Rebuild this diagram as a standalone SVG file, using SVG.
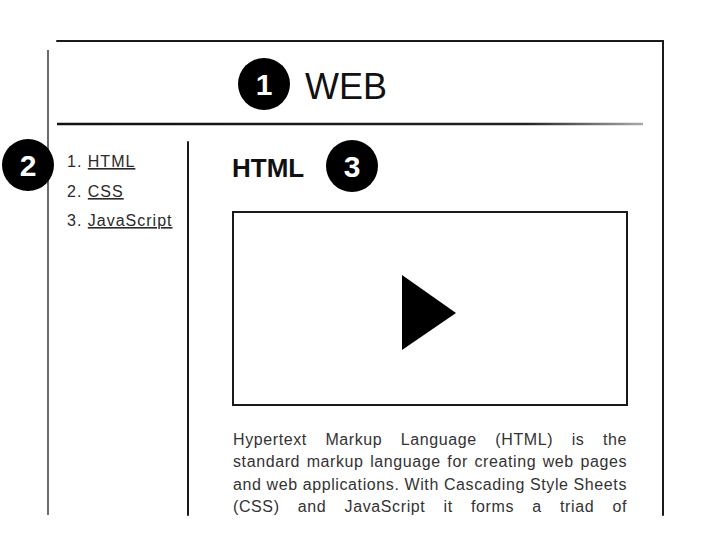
<svg xmlns="http://www.w3.org/2000/svg" width="711" height="541" viewBox="0 0 711 541">
<defs>
<style>
.frame{fill:none;stroke:#1a1a1a;stroke-width:2;stroke-linecap:round}
.thin{fill:none;stroke:#3a3a3a;stroke-width:1.5}
.badge{fill:#000}
.badgeNum{fill:#fff;font-family:"Liberation Sans",Arial,sans-serif;font-weight:bold;font-size:30px;text-anchor:middle}
.sans{font-family:"Liberation Sans",Arial,sans-serif}
.link{font-size:16px;fill:#2a2a2a;letter-spacing:1px}
.para{font-size:16px;fill:#333;letter-spacing:0.6px}
</style>
<linearGradient id="fade" x1="57" y1="0" x2="643" y2="0" gradientUnits="userSpaceOnUse">
<stop offset="0" stop-color="#111"/>
<stop offset="0.8" stop-color="#222"/>
<stop offset="1" stop-color="#aaa"/>
</linearGradient>
</defs>
<rect width="711" height="541" fill="#fff"/>

<g id="page-frame">
<path class="frame" d="M57,41 L663,41"/>
<path class="frame" d="M663,41 L663,515"/>
<path class="thin" d="M48,50 L48,515"/>
</g>

<g id="header">
<path d="M57,124 L643,124" fill="none" stroke="url(#fade)" stroke-width="2.5"/>
<text class="sans" x="305" y="99" font-size="36" fill="#111">WEB</text>
</g>

<g id="sidebar">
<path class="frame" d="M188,142 L188,515"/>
<text class="sans link" x="67" y="167">1. <tspan text-decoration="underline">HTML</tspan></text>
<text class="sans link" x="67" y="197">2. <tspan text-decoration="underline">CSS</tspan></text>
<text class="sans link" x="67" y="226">3. <tspan text-decoration="underline">JavaScript</tspan></text>
</g>

<g id="content">
<text class="sans" x="232" y="177" font-size="26" font-weight="bold" fill="#111">HTML</text>
<g id="video">
<rect x="233" y="212" width="394" height="193" class="frame"/>
<polygon points="402,275 456,313 402,350" fill="#000"/>
</g>
<g id="paragraph">
<text class="sans para" x="233" y="445" word-spacing="13.5" textLength="394" lengthAdjust="spacing">Hypertext Markup Language (HTML) is the</text>
<text class="sans para" x="233" y="467" word-spacing="1.5" textLength="394" lengthAdjust="spacing">standard markup language for creating web pages</text>
<text class="sans para" x="233" y="490" textLength="394" lengthAdjust="spacing">and web applications. With Cascading Style Sheets</text>
<text class="sans para" x="233" y="512" word-spacing="13.2" textLength="394" lengthAdjust="spacing">(CSS) and JavaScript it forms a triad of</text>
</g>
</g>

<g id="marker-1">
<circle class="badge" cx="264" cy="84" r="26"/>
<text class="badgeNum" x="264" y="95">1</text>
</g>
<g id="marker-2">
<circle class="badge" cx="28" cy="165" r="26"/>
<text class="badgeNum" x="28" y="176">2</text>
</g>
<g id="marker-3">
<circle class="badge" cx="352" cy="166" r="26"/>
<text class="badgeNum" x="352" y="177">3</text>
</g>

<g id="connectors"></g>
</svg>
